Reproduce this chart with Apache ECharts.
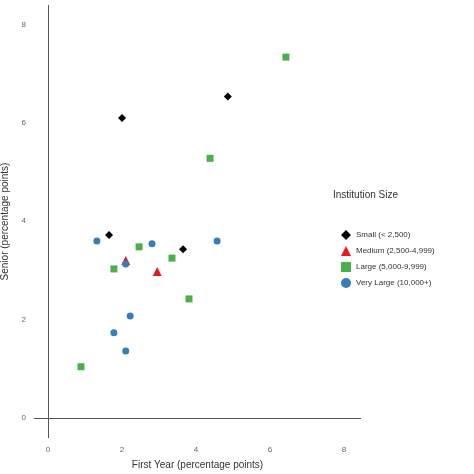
<!DOCTYPE html>
<html><head><meta charset="utf-8">
<script src="https://cdn.jsdelivr.net/npm/echarts@6/dist/echarts.min.js"></script>
<style>html,body{margin:0;padding:0;background:#fff}#c{width:474px;height:474px}</style>
</head><body><div id="c"></div>
<script>
// [first year, senior]
var small = [[2.0, 6.1], [4.86, 6.54], [1.65, 3.72], [3.65, 3.43]];
var medium = [[2.1, 3.2], [2.95, 2.98]];
var large = [[6.43, 7.34], [4.38, 5.28], [2.46, 3.48], [3.35, 3.25], [1.78, 3.03], [3.81, 2.42], [0.89, 1.04]];
var veryLarge = [[1.32, 3.6], [2.81, 3.54], [4.57, 3.6], [2.1, 3.13], [2.22, 2.07], [1.78, 1.73], [2.1, 1.36]];
var ticks = [0, 2, 4, 6, 8];

var chart = echarts.init(document.getElementById('c'));
var labelStyle = {color: '#666', fontSize: 8, customValues: ticks};

function sc(name, data, symbol, color, size) {
    return {name: name, type: 'scatter', data: data, symbol: symbol, symbolSize: size,
        itemStyle: {color: color, opacity: 1}};
}

chart.setOption({
    animation: false,
    grid: {left: 34, right: 113, top: 5, bottom: 36, outerBoundsMode: 'none', containLabel: false},
    legend: {
        orient: 'vertical', left: 336, top: 225, itemWidth: 10, itemHeight: 10, itemGap: 6,
        textStyle: {fontSize: 8, color: '#333'},
        data: ['Small (< 2,500)', 'Medium (2,500-4,999)', 'Large (5,000-9,999)', 'Very Large (10,000+)']
    },
    graphic: [{type: 'text', left: 333, top: 190, style: {text: 'Institution Size', fontSize: 10, fill: '#333'}}],
    xAxis: {
        min: -0.38, max: 8.46, name: 'First Year (percentage points)', nameLocation: 'middle', nameGap: 22,
        nameTextStyle: {fontSize: 10, color: '#333'},
        axisLine: {show: false}, axisTick: {show: false}, splitLine: {show: false},
        axisLabel: labelStyle
    },
    yAxis: {
        min: -0.41, max: 8.4, name: 'Senior (percentage points)', nameLocation: 'middle', nameGap: 20,
        nameTextStyle: {fontSize: 10, color: '#333'},
        axisLine: {show: false}, axisTick: {show: false}, splitLine: {show: false},
        axisLabel: labelStyle
    },
    series: [
        Object.assign(sc('Small (< 2,500)', small, 'diamond', '#000', 8), {
            markLine: {silent: true, symbol: 'none', label: {show: false},
                lineStyle: {color: '#555', width: 1, type: 'solid'},
                data: [{xAxis: 0}, {yAxis: 0}]}
        }),
        sc('Medium (2,500-4,999)', medium, 'triangle', '#e41a1c', 9),
        sc('Large (5,000-9,999)', large, 'rect', '#4daf4a', 7),
        sc('Very Large (10,000+)', veryLarge, 'circle', '#377eb8', 7)
    ]
});
</script></body></html>
